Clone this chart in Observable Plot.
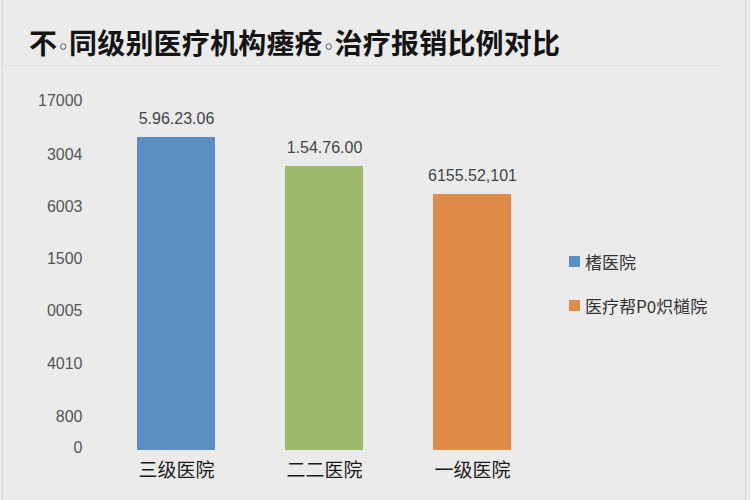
<!DOCTYPE html>
<html>
<head>
<meta charset="utf-8">
<script src="https://cdn.jsdelivr.net/npm/d3@7"></script>
<script src="https://cdn.jsdelivr.net/npm/@observablehq/plot@0.6"></script>
<style>
  html, body { margin: 0; padding: 0; background: #ebebeb; }
  #wrap { position: relative; width: 750px; height: 500px; background: #ebebeb; overflow: hidden;
          font-family: "Noto Sans CJK SC", "Noto Sans", sans-serif; }
  #wrap::before { content: ""; position: absolute; left: 2px; top: 0; bottom: 0; width: 1px; background: #d6d6d6; }
  #wrap::after { content: ""; position: absolute; right: 4px; top: 0; bottom: 0; width: 1px; background: #d6d6d6; }
  #title { position: absolute; left: 29px; top: 22px; font-size: 28px; font-weight: 700; color: #141414; letter-spacing: 0.2px; white-space: nowrap; }
  #title .dot { font-family: "DejaVu Sans", sans-serif; font-size: 20px; font-weight: 400; letter-spacing: 0; }
  #rule { position: absolute; left: 0; top: 65px; width: 720px; height: 1px; background: #e0e0e0; }
  #chart { position: absolute; left: 0; top: 70px; }
  #legend { position: absolute; left: 569px; top: 249px; font-size: 17px; color: #333; }
  .item { display: flex; align-items: center; height: 24px; margin-bottom: 20px; }
  .sw { width: 11px; height: 11px; margin-right: 5px; }
</style>
</head>
<body>
<div id="wrap">
  <div id="title"></div>
  <div id="rule"></div>
  <div id="chart"></div>
  <div id="legend"></div>
</div>
<script>
// Data
const categories = ["三级医院", "二二医院", "一级医院"];
const values = [313, 284, 256];
const valueLabels = ["5.96.23.06", "1.54.76.00", "6155.52,101"];
const colors = ["#5b8fc4", "#9cba69", "#df8c49"];
const yTickValues = [3, 34, 87, 140, 192, 244, 296, 350];
const yTickLabels = ["0", "800", "4010", "0005", "1500", "6003", "3004", "17000"];
const legendLabels = ["榰医院", "医疗帮P0炽檤院"];
const legendColors = ["#5b8fc4", "#df8c49"];
const titleParts = ["不", "◦", "同级别医疗机构瘗疮", "◦", "治疗报销比例对比"];

const titleEl = document.getElementById("title");
titleParts.forEach(p => {
  const s = document.createElement("span");
  s.textContent = p;
  if (p === "◦") s.className = "dot";
  titleEl.appendChild(s);
});

const data = categories.map((c, i) => ({cat: c, value: values[i], label: valueLabels[i], color: colors[i]}));
const tickMap = new Map(yTickValues.map((v, i) => [v, yTickLabels[i]]));

const chart = Plot.plot({
  width: 750,
  height: 430,
  marginLeft: 65.5,
  marginRight: 168.5,
  marginTop: 30,
  marginBottom: 50,
  style: { background: "transparent", fontFamily: "'Noto Sans CJK SC', 'Noto Sans', sans-serif" },
  x: { domain: categories, padding: 0.475, axis: null },
  y: { domain: [0, 350], axis: null },
  marks: [
    Plot.axisY({ ticks: yTickValues, tickFormat: d => tickMap.get(d), tickSize: 0, tickPadding: 3, dx: 19.5,
                 label: null, fontSize: 16, color: "#555", fill: "#555", fontFamily: "Liberation Sans, Arial, sans-serif" }),
    Plot.axisX({ tickSize: 0, tickPadding: 13, label: null, fontSize: 19, fill: "#1a1a1a", color: "#1a1a1a" }),
    Plot.barY(data, { x: "cat", y: "value", fill: "color" }),
    Plot.text(data, { x: "cat", y: "value", text: "label", dy: -19, fontSize: 16, fill: "#444",
                      fontFamily: "Liberation Sans, Arial, sans-serif" })
  ]
});
document.getElementById("chart").appendChild(chart);

const legend = document.getElementById("legend");
legendLabels.forEach((l, i) => {
  const it = document.createElement("div");
  it.className = "item";
  const sw = document.createElement("div");
  sw.className = "sw";
  sw.style.background = legendColors[i];
  const tx = document.createElement("span");
  tx.textContent = l;
  it.appendChild(sw);
  it.appendChild(tx);
  legend.appendChild(it);
});
</script>
</body>
</html>
